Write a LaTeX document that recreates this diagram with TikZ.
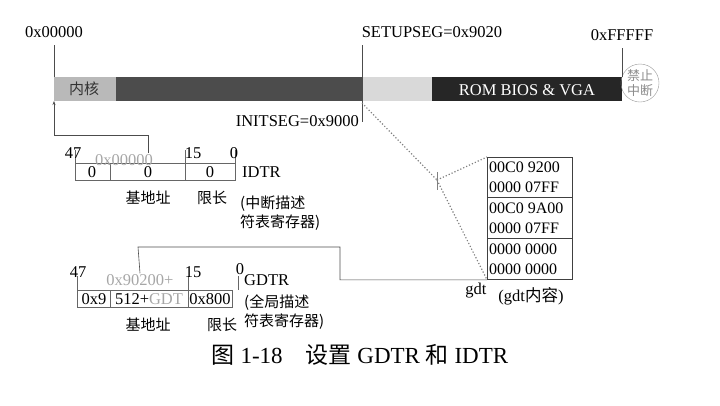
\documentclass[tikz,border=0pt]{standalone}
\usepackage{fontspec}
\setmainfont{Liberation Serif}
\newfontfamily\cjk{Noto Sans CJK SC}
\usetikzlibrary{patterns,arrows.meta}
\begin{document}
\begin{tikzpicture}[x=1pt,y=-1pt,
  lbl/.style={font=\fontsize{16.5}{18}\selectfont,inner sep=1pt},
  glbl/.style={lbl,text=gray!70},
  cl/.style={font=\cjk\fontsize{15}{19}\selectfont,inner sep=1pt},
  ln/.style={draw=black!70,line width=0.6pt},
  reg/.style={draw=black!60,line width=0.6pt},
  dot/.style={draw=black!50,dotted,line width=1.2pt}]
\useasboundingbox (0,0) rectangle (720,405);
% memory bar
\fill[gray!55] (54,77) rectangle (116,101);
\fill[black!70] (116,77) rectangle (362,101);
\fill[gray!30] (362,77) rectangle (432,101);
\fill[black!85] (432,77) rectangle (622,101);
\node[cl,text=black!80] (kern) at (84,89) {内核};
\node[lbl,text=white] (rom) at (527,90) {ROM BIOS \& VGA};
\node[circle,draw=black!40,minimum size=38pt,inner sep=0pt,align=center,font=\cjk\fontsize{13}{15}\selectfont,text=black!45] (nint) at (640,83) {禁止\\中断};
\coordinate (t0) at (54,45); \coordinate (t0b) at (54,77);
\coordinate (t1) at (362,45); \coordinate (t1b) at (362,122);
\coordinate (t2) at (622,48); \coordinate (t2b) at (622,77);
\draw[ln] (t0)--(t0b); \draw[ln] (t1)--(t1b); \draw[ln] (t2)--(t2b);
\node[lbl] (a0) at (54,32) {0x00000};
\node[lbl] (a1) at (432,32) {SETUPSEG=0x9020};
\node[lbl] (a2) at (622,35) {0xFFFFF};
\node[lbl,anchor=east] (a3) at (360,121) {INITSEG=0x9000};
% IDTR
\draw[reg] (75,163) rectangle (235,180);
\draw[reg] (110,163)--(110,180) (185,163)--(185,180);
\node[lbl] (i1) at (92,172) {0};
\node[lbl] (i2) at (148,172) {0};
\node[lbl] (i3) at (210,172) {0};
\draw[reg] (75,150)--(75,163) (185,150)--(185,163) (235,150)--(235,163);
\node[lbl] (i47) at (73,153) {47};
\node[glbl] (ib) at (124,160) {0x00000};
\node[lbl] (i15) at (193,153) {15};
\node[lbl] (i0) at (234,153) {0};
\node[cl] (ibase) at (148,198) {基地址};
\node[cl] (ilim) at (212,198) {限长};
\node[lbl,anchor=west] (idtr) at (241,172) {IDTR};
\node[cl,anchor=west,align=left] (idtrc) at (239,213) {(中断描述\\符表寄存器)};
\coordinate (ic) at (148,135);
\draw[ln,-{Stealth[length=4pt,width=3pt]}] (ib.north -| ic) -- (ic) -| (54,101);
% GDTR
\draw[reg] (77,290) rectangle (232,307);
\draw[reg] (110,290)--(110,307) (188,290)--(188,307);
\node[lbl] (g1) at (94,299) {0x9};
\node[lbl] (g2) at (149,299) {512+\textcolor{gray!70}{GDT}};
\node[lbl] (g3) at (210,299) {0x800};
\draw[reg] (77,276)--(77,290) (188,276)--(188,290) (238,276)--(238,290);
\node[lbl] (g47) at (78,272) {47};
\node[glbl] (gb) at (140,280) {0x90200+};
\node[lbl] (g15) at (193,272) {15};
\node[lbl] (g0) at (240,269) {0};
\node[cl] (gbase) at (148,325) {基地址};
\node[cl] (glim) at (222,325) {限长};
\node[lbl,anchor=west] (gdtr) at (243,280) {GDTR};
\node[cl,anchor=west,align=left] (gdtrc) at (243,312) {(全局描述\\符表寄存器)};
% gdt table
\node[draw=black!75,line width=0.8pt,minimum width=85pt,minimum height=122pt,anchor=north west,inner sep=0pt] (tbl) at (487,157) {};
\draw[draw=black!75,line width=0.8pt] (487,197)--(572,197) (487,238)--(572,238);
\node[lbl,align=left,anchor=west,font=\fontsize{16}{20}\selectfont] (r1) at (488,177) {00C0 9200\\0000 07FF};
\node[lbl,align=left,anchor=west,font=\fontsize{16}{20}\selectfont] (r2) at (488,218) {00C0 9A00\\0000 07FF};
\node[lbl,align=left,anchor=west,font=\fontsize{16}{20}\selectfont] (r3) at (488,259) {0000 0000\\0000 0000};
\node[lbl] (gdtl) at (476,291) {gdt};
\node[lbl] (gdtc) at (531,296) {(gdt{\cjk 内容})};
\coordinate (gbr) at (340,247);
\draw[ln] (gb.north) -- (138,247) -- (gbr) |- (tbl.south west);
% dotted zoom lines
\coordinate (zp) at (437,180);
\draw[black!50] (437,172)--(437,190);
\draw[dot] (362,103) -- (zp);
\draw[dot] (zp) -- (tbl.north west);
\draw[dot] (zp) -- (tbl.south west);
% caption
\node[font=\fontsize{23}{26}\selectfont,inner sep=0pt] (cap) at (360,355) {{\cjk 图} 1-18\quad{\cjk 设置} GDTR {\cjk 和} IDTR};
\end{tikzpicture}
\end{document}
